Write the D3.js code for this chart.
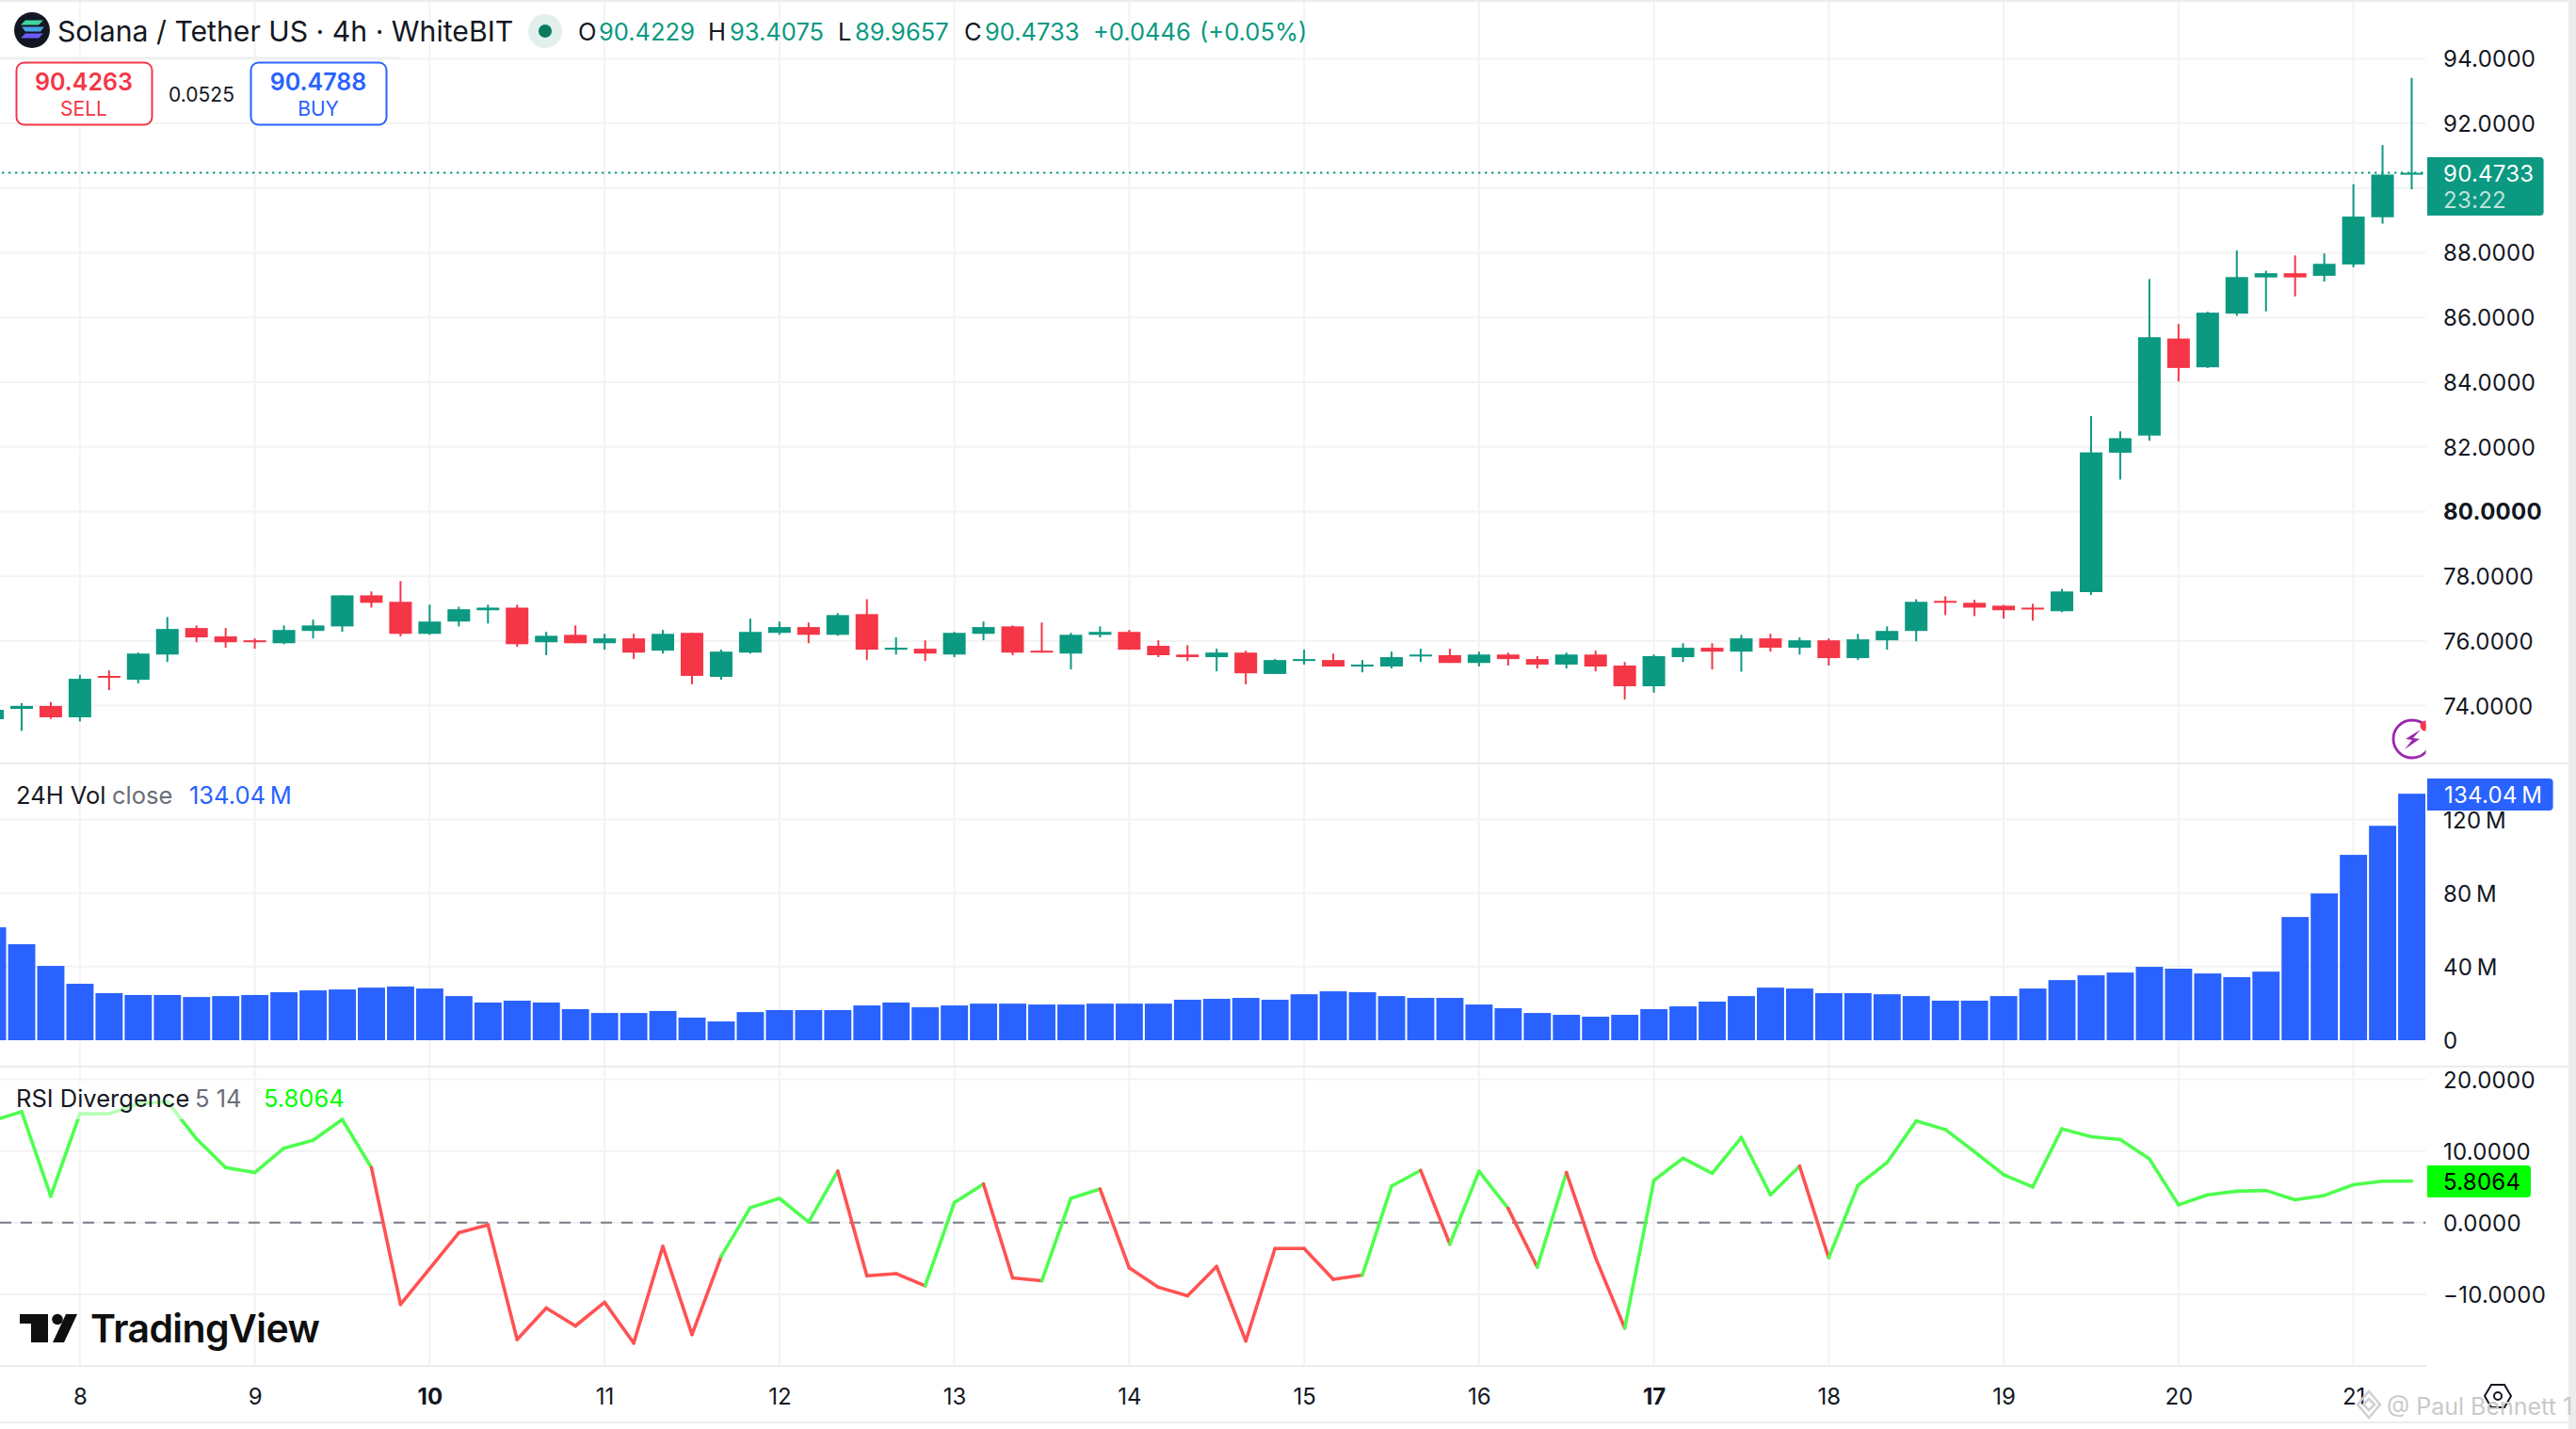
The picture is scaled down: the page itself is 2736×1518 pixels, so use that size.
<!DOCTYPE html>
<html><head><meta charset="utf-8">
<script src="https://cdn.jsdelivr.net/npm/d3@7"></script>
<style>
html,body{margin:0;padding:0;background:#fff;overflow:hidden}
svg{display:block}
text{font-family:Inter,"Noto Sans",sans-serif;fill:#131722}
</style></head><body>
<div id="chart"></div>
<script>
const dayLabels=[8,9,10,11,12,13,14,15,16,17,18,19,20,21];
const boldDays=[10,17];
const priceTicks=[74,76,78,80,82,84,86,88,90,92,94];
const priceLabelTicks=[74,76,78,80,82,84,86,88,92,94];
const volTicks=[0,40,80,120];
const rsiTicks=[-10,0,10,20];

const candleOpen=[73.58,73.90,73.99,73.64,74.92,74.80,75.58,76.40,76.14,76.02,75.93,76.31,76.45,77.41,77.21,76.22,76.60,76.95,77.03,75.96,76.19,75.93,76.08,75.70,76.25,74.89,75.64,76.25,76.43,76.19,76.83,75.73,75.76,75.58,76.22,76.45,75.70,75.61,76.19,76.28,75.85,75.58,75.50,75.64,74.98,75.38,75.41,75.21,75.21,75.53,75.56,75.32,75.58,75.44,75.27,75.58,75.24,74.60,75.50,75.79,75.67,76.08,75.79,76.02,75.47,76.02,76.31,77.24,77.18,77.09,77.03,76.92,77.51,81.82,82.35,85.35,84.46,86.12,87.24,87.37,87.29,87.64,89.10,90.4229];
const candleClose=[73.87,73.99,73.64,74.83,74.86,75.61,76.37,76.11,75.96,75.96,76.34,76.48,77.41,77.18,76.22,76.60,76.98,77.03,75.90,76.16,75.93,76.08,75.64,76.22,74.92,75.67,76.28,76.43,76.19,76.80,75.73,75.79,75.61,76.25,76.43,75.64,75.64,76.19,76.28,75.73,75.56,75.50,75.64,75.00,75.41,75.44,75.21,75.27,75.50,75.58,75.32,75.58,75.44,75.27,75.58,75.21,74.60,75.53,75.79,75.67,76.08,75.79,76.02,75.47,76.05,76.31,77.21,77.18,77.03,76.95,76.98,77.53,81.83,82.27,85.39,84.44,86.15,87.25,87.37,87.24,87.66,89.12,90.42,90.4733];
const candleHigh=[73.87,74.08,74.11,74.95,75.09,75.64,76.74,76.48,76.40,76.08,76.48,76.66,77.41,77.53,77.85,77.12,77.06,77.12,77.12,76.28,76.48,76.22,76.22,76.34,76.25,75.73,76.69,76.60,76.57,76.86,77.29,76.11,76.02,76.28,76.60,76.48,76.57,76.25,76.45,76.34,76.02,75.87,75.76,75.70,75.44,75.73,75.61,75.41,75.67,75.76,75.76,75.67,75.64,75.53,75.64,75.70,75.35,75.58,75.93,75.93,76.19,76.22,76.11,76.08,76.22,76.45,77.29,77.38,77.27,77.12,77.15,77.61,82.95,82.48,87.19,85.80,86.18,88.07,87.45,87.92,87.98,90.12,91.33,93.4075];
const candleLow=[73.58,73.22,73.59,73.51,74.48,74.69,75.35,75.96,75.79,75.76,75.90,76.08,76.28,77.03,76.14,76.19,76.45,76.54,75.82,75.56,75.93,75.73,75.44,75.61,74.66,74.80,75.61,76.19,75.93,76.16,75.41,75.58,75.38,75.50,76.02,75.56,75.64,75.12,76.11,75.73,75.50,75.38,75.06,74.66,74.98,75.27,75.21,75.03,75.15,75.35,75.32,75.21,75.24,75.15,75.15,75.06,74.19,74.40,75.35,75.12,75.05,75.67,75.58,75.24,75.41,75.73,75.99,76.80,76.77,76.69,76.63,76.89,77.42,80.99,82.19,84.02,84.44,86.05,86.19,86.65,87.11,87.55,88.90,89.9657];

const volume24h=[61.4,52.2,40.4,30.7,25.6,24.6,24.6,23.5,24,24.6,26.1,27.1,27.6,28.6,29.2,28.1,24,20.5,21.5,20.5,16.9,14.8,14.8,15.9,12.3,10.2,15.3,16.4,16.4,16.4,18.9,20.5,17.9,18.9,19.9,19.9,19.4,19.4,19.9,19.9,19.9,22,22.5,23,22,25,26.6,26.1,24,23,23,19.4,17.4,14.8,13.8,12.8,13.8,16.9,18.4,21,24,28.6,28.1,25.6,25.6,25,24,21.5,21.5,24,28.1,32.7,35.3,36.8,39.9,38.9,36.3,34.3,37.3,67,79.8,100.8,116.6,134.04];

const rsiValues=[14.2,15.5,3.7,15.2,15.2,16.6,16.9,11.7,7.7,7.0,10.4,11.5,14.4,7.7,-11.4,-6.4,-1.4,-0.3,-16.3,-11.9,-14.4,-11.1,-16.8,-3.3,-15.6,-4.7,2.1,3.4,0.1,7.2,-7.4,-7.1,-8.8,2.8,5.4,-7.7,-8.1,3.4,4.7,-6.3,-9.0,-10.2,-6.1,-16.5,-3.6,-3.6,-7.9,-7.3,5.1,7.3,-3.0,7.2,2.0,-6.2,7.0,-4.9,-14.7,5.9,9.0,6.9,11.9,3.9,7.9,-4.9,5.2,8.4,14.2,13.0,9.9,6.7,5.0,13.1,12.0,11.6,8.9,2.5,3.9,4.4,4.5,3.2,3.8,5.3,5.8,5.8064];
const rsiSegmentState="GGGGGGGGGGGGGGRRRRRRRRRRRRGGGGRRRGGRRGGRRRRRRRRRGGRGGRGRRGGGGGGRGGGGGGGGGGGGGGGGGGGG".split("");

const W=2736,H=1518,plotR=2576.5,rightEdge=2728;
const cGreen="#0b9981",cRed="#f43647",cBlue="#2962ff",cGrid="#f3f3f3",cSep="#ececec",cInk="#131722";

const x=d3.scaleLinear().domain([0,83]).range([-8,2561.5]);
const yP=d3.scaleLinear().domain([74,94]).range([749.6,62.4]);
const yV=d3.scaleLinear().domain([0,120]).range([1105,870.6]);
const yR=d3.scaleLinear().domain([-10,20]).range([1375,1146.6]);

const svg=d3.select("#chart").append("svg").attr("width",W).attr("height",H).attr("viewBox",`0 0 ${W} ${H}`);
const defs=svg.append("defs");
defs.append("clipPath").attr("id","plot").append("rect").attr("x",0).attr("y",0).attr("width",plotR).attr("height",1451);
const clipG=()=>svg.append("g").attr("clip-path","url(#plot)");

svg.append("rect").attr("width",W).attr("height",H).attr("fill","#fff");

// Grid
const grid=svg.append("g").attr("stroke",cGrid).attr("stroke-width",2);
dayLabels.forEach((d,i)=>{const px=x(3+6*i);grid.append("line").attr("x1",px).attr("x2",px).attr("y1",2).attr("y2",1452);});
priceTicks.forEach(v=>grid.append("line").attr("x1",0).attr("x2",plotR).attr("y1",yP(v)).attr("y2",yP(v)));
volTicks.slice(1).forEach(v=>grid.append("line").attr("x1",0).attr("x2",plotR).attr("y1",yV(v)).attr("y2",yV(v)));
rsiTicks.forEach(v=>grid.append("line").attr("x1",0).attr("x2",plotR).attr("y1",yR(v)).attr("y2",yR(v)));
svg.append("line").attr("x1",0).attr("x2",424).attr("y1",yP(94)-1).attr("y2",yP(94)-1).attr("stroke","#eeeeee").attr("stroke-width",2);

// Frame
const frame=svg.append("g").attr("fill",cSep);
frame.append("rect").attr("x",0).attr("y",0).attr("width",W).attr("height",2);
frame.append("rect").attr("x",rightEdge).attr("y",0).attr("width",W-rightEdge).attr("height",H);
frame.append("rect").attr("x",0).attr("y",810).attr("width",rightEdge).attr("height",2);
frame.append("rect").attr("x",0).attr("y",1132).attr("width",rightEdge).attr("height",2);
frame.append("rect").attr("x",0).attr("y",1450).attr("width",plotR).attr("height",2);
frame.append("rect").attr("x",0).attr("y",1510).attr("width",rightEdge).attr("height",2);

// Price line
svg.append("line").attr("x1",2).attr("x2",plotR).attr("y1",yP(90.4733)).attr("y2",yP(90.4733))
  .attr("stroke",cGreen).attr("stroke-width",2).attr("stroke-dasharray","2.4 4.6");

// Candles
const candles=d3.range(candleOpen.length).map(i=>({i,o:candleOpen[i],c:candleClose[i],h:candleHigh[i],l:candleLow[i]}));
const cg=clipG();
cg.selectAll("line.w").data(candles).join("line").attr("class","w")
  .attr("x1",d=>x(d.i)).attr("x2",d=>x(d.i)).attr("y1",d=>yP(d.h)).attr("y2",d=>yP(d.l))
  .attr("stroke-width",2).attr("stroke",d=>d.c>=d.o?cGreen:cRed);
cg.selectAll("rect.b").data(candles).join("rect").attr("class","b")
  .attr("x",d=>x(d.i)-12).attr("width",24)
  .attr("y",d=>Math.min(yP(d.o),yP(d.c)))
  .attr("height",d=>Math.max(2,Math.abs(yP(d.o)-yP(d.c))))
  .attr("fill",d=>d.c>=d.o?cGreen:cRed);

// Lightning badge
const bolt=clipG();
bolt.append("circle").attr("cx",2562).attr("cy",785).attr("r",20).attr("fill","#fff").attr("stroke","#9c27b0").attr("stroke-width",2.8);
bolt.append("path").attr("fill","#9c27b0").attr("d","M2571 775 L2555 785 L2562 786 L2554 796 L2570 785 L2563 784 Z");
bolt.append("circle").attr("cx",2576).attr("cy",771).attr("r",5.5).attr("fill",cRed);

// Volume
clipG().selectAll("rect").data(volume24h).join("rect")
  .attr("x",(d,i)=>x(i)-14.4).attr("width",28.9)
  .attr("y",d=>yV(d)).attr("height",d=>yV(0)-yV(d)).attr("fill",cBlue);

// RSI
const line=d3.line().x(d=>x(d.i)).y(d=>yR(d.v));
const rg=clipG().attr("fill","none").attr("stroke-width",3.6).attr("stroke-linejoin","round");
rg.append("line").attr("x1",0).attr("x2",plotR).attr("y1",yR(0)).attr("y2",yR(0))
  .attr("stroke","#787b86").attr("stroke-width",2).attr("stroke-dasharray","12 10");
rsiValues.slice(1).forEach((v,k)=>{
  rg.append("path").attr("d",line([{i:k,v:rsiValues[k]},{i:k+1,v}]))
    .attr("stroke",rsiSegmentState[k+1]==="G"?"#4dff4d":"#ff5252").attr("stroke-linecap","round");
});
svg.append("rect").attr("x",78).attr("y",1148).attr("width",122).attr("height",41).attr("fill","#fff").attr("opacity",.6);

// Axis helpers
const AX=2595;
function axis(scale,ticks,fmt){
  const g=svg.append("g").attr("transform",`translate(${AX-6},0)`)
    .call(d3.axisRight(scale).tickValues(ticks).tickSize(0).tickPadding(6).tickFormat(fmt));
  g.select(".domain").remove();
  g.selectAll("text").attr("font-size",24).attr("letter-spacing",.25).style("font-family","Inter").attr("fill",cInk).attr("dy","0.35em");
  return g;
}
const pAxis=axis(yP,priceLabelTicks,d=>d3.format(".4f")(d));
pAxis.selectAll(".tick").filter(d=>d===80).select("text").attr("font-weight",700);
axis(yV,volTicks,d=>d===0?"0":d+"\u2009M");
axis(yR,rsiTicks,d=>(d<0?"\u2212":"")+d3.format(".4f")(Math.abs(d)));

// Time axis
const tAxis=d3.axisBottom(d3.scaleLinear().domain(x.domain()).range(x.range()))
  .tickValues(dayLabels.map((d,i)=>3+6*i)).tickSize(0).tickPadding(0).tickFormat((d,i)=>dayLabels[i]);
const tg=svg.append("g").attr("transform","translate(0,1474)").call(tAxis);
tg.select(".domain").remove();
tg.selectAll("text").attr("font-size",24).attr("fill",cInk).style("font-family","Inter").attr("dy",18)
  .attr("font-weight",(d,i)=>boldDays.includes(dayLabels[i])?700:400);

// Tags
function tag(x0,y0,w,h,fill){svg.append("path").attr("fill",fill)
  .attr("d",`M${x0} ${y0} H${x0+w-4} a4 4 0 0 1 4 4 V${y0+h-4} a4 4 0 0 1 -4 4 H${x0} Z`);}
const t=(s,px,py,size,fill,opt={})=>{const e=svg.append("text").attr("x",px).attr("y",py).attr("font-size",size)
  .attr("dy","0.36em").style("fill",fill).text(s);
  if(opt.anchor)e.attr("text-anchor",opt.anchor); if(opt.weight)e.attr("font-weight",opt.weight);
  if(opt.opacity)e.attr("opacity",opt.opacity); if(opt.ls)e.attr("letter-spacing",opt.ls); return e;};
tag(2578,167,123.6,62,cGreen);
t("90.4733",AX,184,24,"#fff",{ls:.25});
t("23:22",AX,212,24,"#fff",{opacity:.72,ls:.25});
tag(2578,827,133.6,34,cBlue);
t("134.04\u2009M",AX+1,844,24,"#fff",{ls:.25});
tag(2578,1238,110,34,"#00ff00");
t("5.8064",AX,1255,24,"#000",{ls:.25});

// Header
const logo=svg.append("g");
logo.append("circle").attr("cx",34).attr("cy",32).attr("r",19).attr("fill",cInk);
[[24,"#3fd6a0"],[31,"#4a9fe8"],[38,"#6a5cff"]].forEach(([yy,c],k)=>{
  logo.append("path").attr("fill",c).attr("d",`M${k==1?23:27} ${yy-2.5} H${k==1?47:46} L${k==1?43:41} ${yy+2.5} H${k==1?27:22} Z`);
});
t("Solana / Tether US \u00b7 4h \u00b7 WhiteBIT",61,33,30.2,cInk);
svg.append("circle").attr("cx",579).attr("cy",33).attr("r",18).attr("fill","#e1f0ed");
svg.append("circle").attr("cx",579).attr("cy",33).attr("r",7).attr("fill","#0a7a5e");
const legendLabels=["O","H","L","C"];
const legendValues=["90.4229","93.4075","89.9657","90.4733"];
const lx=[614,752,890,1024],vx=[636,775,908,1046];
legendLabels.forEach((s,i)=>{t(s,lx[i],34,25.5,cInk);t(legendValues[i],vx[i],34,25.5,cGreen);});
t("+0.0446",1161,34,25.5,cGreen);
t("(+0.05%)",1274,34,25.5,cGreen);

// Sell / buy
svg.append("rect").attr("x",17.5).attr("y",66.5).attr("width",144).attr("height",66).attr("rx",8).attr("fill","#fff").attr("stroke",cRed).attr("stroke-width",2);
svg.append("rect").attr("x",266.5).attr("y",66.5).attr("width",144).attr("height",66).attr("rx",8).attr("fill","#fff").attr("stroke",cBlue).attr("stroke-width",2);
t("90.4263",89,87,25,cRed,{anchor:"middle",weight:600});
t("SELL",89,115,21,cRed,{anchor:"middle"});
t("0.0525",214,100,21,cInk,{anchor:"middle"});
t("90.4788",338,87,25,cBlue,{anchor:"middle",weight:600});
t("BUY",338,115,21,cBlue,{anchor:"middle"});

// Sub legends
t("24H Vol",17,845,25.5,cInk);
t("close",119,845,25.5,"#6a6d78");
t("134.04\u2009M",201,845,25.5,cBlue);
t("RSI Divergence",17,1167,25.5,cInk);
t("5 14",207,1167,25.5,"#6a6d78");
t("5.8064",280,1167,25.5,"#00ff00");

// TradingView mark
svg.append("path").attr("fill","#0f0f0f").attr("d","M21 1396 H51 V1426 H33 V1406 H21 Z M82 1396 L68 1426 H56 L70 1396 Z");
svg.append("circle").attr("cx",61).attr("cy",1401.5).attr("r",5.8).attr("fill","#0f0f0f");
t("TradingView",96,1411,41,"#0f0f0f",{weight:600,ls:-.6});

// Settings hexagon
svg.append("path").attr("fill","none").attr("stroke",cInk).attr("stroke-width",2)
  .attr("d","M2646 1471 H2660 L2667 1483 L2660 1495 H2646 L2639 1483 Z");
svg.append("circle").attr("cx",2653).attr("cy",1483).attr("r",4).attr("fill","none").attr("stroke",cInk).attr("stroke-width",2);

// Watermark
svg.append("path").attr("fill","none").attr("stroke","#d0d0d0").attr("stroke-width",2.5)
  .attr("d","M2516 1478 L2528 1492 L2516 1506 L2504 1492 Z M2516 1486 L2522 1492 L2516 1498 L2510 1492 Z");
t("@ Paul Bennett 1",2535,1494,25,"#c9c9c9");
</script>
</body></html>
